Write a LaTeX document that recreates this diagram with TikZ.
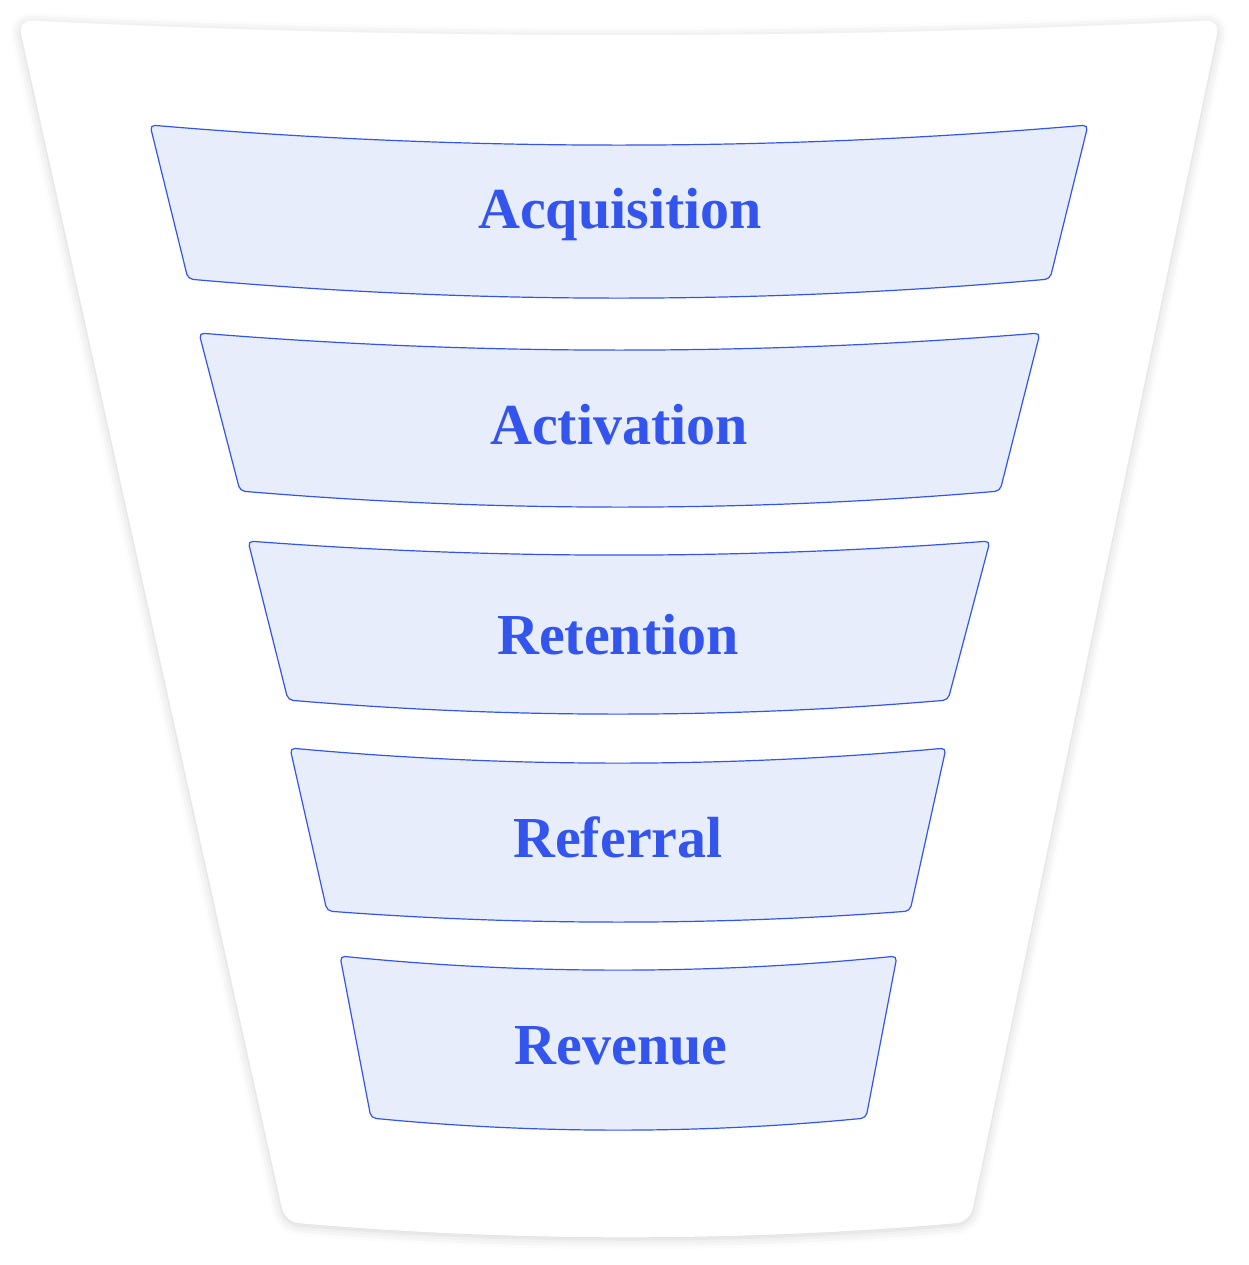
\documentclass[tikz,border=0pt]{standalone}
\usepackage{fontspec}
\setmainfont{Liberation Serif}
\usetikzlibrary{shadows.blur}
\definecolor{bandblue}{HTML}{3355EE}
\definecolor{bandfill}{HTML}{E8EDFC}
\tikzset{
  bandshape/.style={draw=bandblue, line width=1.2pt, fill=bandfill, rounded corners=5pt},
  bandlabel/.style={text=bandblue, font=\bfseries\fontsize{58}{60}\selectfont},
  outershape/.style={fill=white, rounded corners=14pt, blur shadow={shadow xshift=0pt, shadow yshift=-2pt, shadow blur radius=10pt, shadow opacity=18}}
}
% #1 x top-left #2 x top-right #3 y top corners #4 y top mid #5 x bottom-left #6 x bottom-right #7 y bottom corners #8 y bottom mid
\newcommand\funnelband[8]{%
  \pgfmathsetmacro\tc{#3+4/3*(#4-#3)}%
  \pgfmathsetmacro\bc{#7+4/3*(#8-#7)}%
  \path[bandshape] (#1,#3) .. controls ({#1+(#2-#1)/3},\tc) and ({#1+2*(#2-#1)/3},\tc) .. (#2,#3)
    -- (#6,#7) .. controls ({#6-(#6-#5)/3},\bc) and ({#6-2*(#6-#5)/3},\bc) .. (#5,#7) -- cycle;
}
\begin{document}
\begin{tikzpicture}[x=1pt,y=-1pt]
\useasboundingbox (0,0) rectangle (1248,1265);
\path[outershape] (18,20) .. controls (418,40) and (820,40) .. (1220,20)
  -- (970,1222) .. controls (742,1242) and (513,1242) .. (285,1222) -- cycle;
\funnelband{150}{1088}{125}{145}{188}{1050}{279}{298}
\funnelband{199}{1040}{333}{350}{240}{1000}{491}{507}
\funnelband{248}{990}{541}{555}{288}{948}{700}{714}
\funnelband{290}{946}{748}{763}{327}{910}{911}{922}
\funnelband{340}{897}{956}{970}{371}{866}{1118}{1130}
\node[bandlabel] (acq) at (620,215) {Acquisition};
\node[bandlabel] (act) at (619,425) {Activation};
\node[bandlabel] (ret) at (618,635) {Retention};
\node[bandlabel] (ref) at (618,837) {Referral};
\node[bandlabel] (rev) at (621,1046) {Revenue};
\end{tikzpicture}
\end{document}
